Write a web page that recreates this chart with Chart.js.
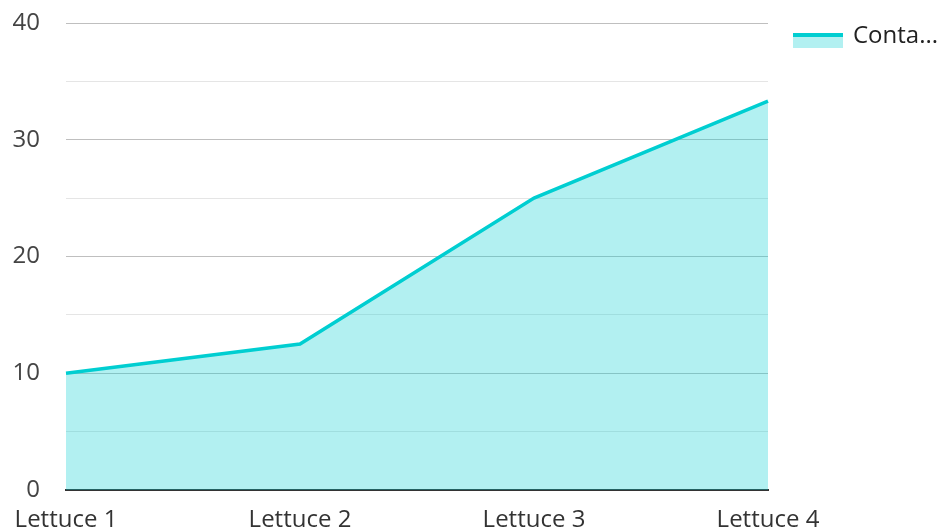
<!DOCTYPE html>
<html>
<head>
<meta charset="utf-8">
<script src="https://cdn.jsdelivr.net/npm/chart.js@4"></script>
<style>
  html, body { margin: 0; padding: 0; background: #fff; }
  #wrap { width: 942px; height: 531px; }
</style>
</head>
<body>
<div id="wrap"><canvas id="chart"></canvas></div>
<script>
// Chart data
const categories = ["Lettuce 1", "Lettuce 2", "Lettuce 3", "Lettuce 4"];
const seriesName = "Conta...";
const seriesValues = [10, 12.5, 25, 33.3];
const yTicks = [0, 10, 20, 30, 40];

const lineColor = "rgb(0, 206, 209)";
const fillColor = "rgba(0, 206, 209, 0.3)";

// Legend drawn at the top right: a thick line over a filled box, then the name
const sideLegend = {
  id: "sideLegend",
  afterDraw(chart) {
    const ctx = chart.ctx;
    const x = chart.chartArea.right + 25;
    ctx.save();
    ctx.fillStyle = fillColor;
    ctx.fillRect(x, 36, 50, 12);
    ctx.fillStyle = lineColor;
    ctx.fillRect(x, 33, 50, 4);
    ctx.fillStyle = "#222";
    ctx.font = "24px 'Open Sans'";
    ctx.textBaseline = "alphabetic";
    ctx.fillText(seriesName, x + 60, 43);
    ctx.restore();
  }
};

new Chart(document.getElementById("chart"), {
  type: "line",
  data: {
    labels: categories,
    datasets: [{
      label: seriesName,
      data: seriesValues,
      borderColor: lineColor,
      backgroundColor: fillColor,
      borderWidth: 3.5,
      fill: "origin",
      pointRadius: 0,
      tension: 0
    }]
  },
  options: {
    responsive: true,
    maintainAspectRatio: false,
    animation: false,
    layout: { padding: { top: 23, right: 174, left: 0, bottom: 0 } },
    scales: {
      x: {
        offset: false,
        grid: { display: false, drawTicks: false },
        border: { display: true, color: "#333", width: 2 },
        ticks: {
          color: "#333",
          padding: 16,
          maxRotation: 0,
          font: { family: "'Open Sans'", size: 24 }
        },
        afterFit(scale) {
          scale.height = 41;
          scale.paddingLeft = 0;
          scale.paddingRight = 0;
        }
      },
      y: {
        min: 0,
        max: 40,
        grid: {
          drawTicks: false,
          color: ctx => (ctx.tick && ctx.tick.value % 10 === 0) ? "rgba(0,0,0,0.25)" : "rgba(0,0,0,0.1)",
          lineWidth: 1
        },
        border: { display: false },
        ticks: {
          stepSize: 5,
          autoSkip: false,
          color: "#444",
          padding: 26,
          font: { family: "'Open Sans'", size: 24 },
          callback: v => yTicks.includes(v) ? String(v) : ""
        },
        afterFit(scale) {
          scale.width = 66;
          scale.paddingTop = 0;
          scale.paddingBottom = 0;
        }
      }
    },
    plugins: {
      legend: { display: false },
      tooltip: { enabled: false }
    }
  },
  plugins: [sideLegend]
});
</script>
</body>
</html>
